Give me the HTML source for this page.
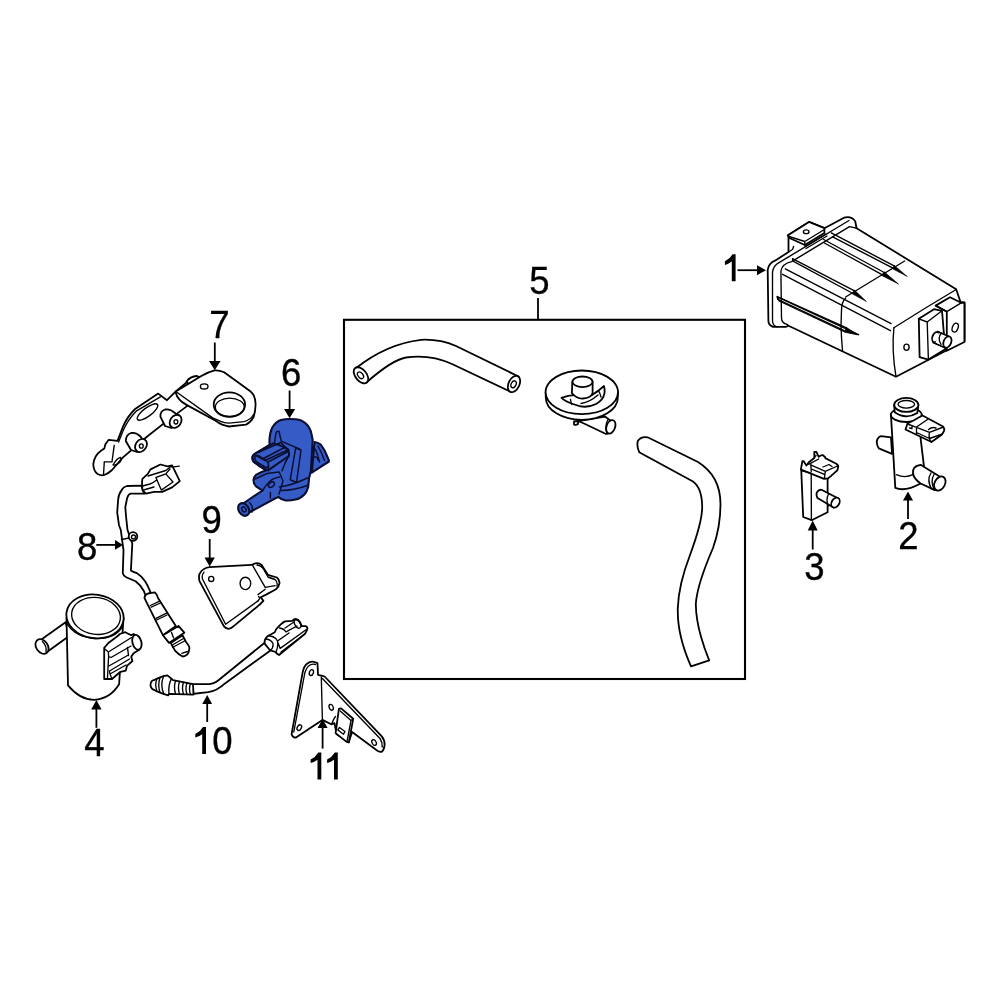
<!DOCTYPE html>
<html><head><meta charset="utf-8">
<style>
html,body{margin:0;padding:0;background:#fff;width:1000px;height:1000px;overflow:hidden}
svg{display:block;will-change:transform}
text{font-family:"Liberation Sans",sans-serif;font-size:38.5px;fill:#000;stroke:#000;stroke-width:0.35px;text-anchor:middle}
.s{fill:#fff;stroke:#000;stroke-width:1.8;stroke-linejoin:round;stroke-linecap:round}
.l{fill:none;stroke:#000;stroke-width:1.35;stroke-linejoin:round;stroke-linecap:round}
.b{fill:#355bc6;stroke:#0a0f32;stroke-width:2.1;stroke-linejoin:round;stroke-linecap:round}
.bl{fill:none;stroke:#0a0f32;stroke-width:1.5;stroke-linejoin:round;stroke-linecap:round}
.a{fill:none;stroke:#000;stroke-width:1.8}
.ah{fill:#000;stroke:none}
</style></head><body>
<svg width="1000" height="1000" viewBox="0 0 1000 1000">
<defs><path id="one" d="M0 0L0 27L-3.8 27L-3.8 7.2Q-7 9.6 -10.7 10.6L-10.7 7Q-5.6 4.6 -3 0Z"/></defs>
<!-- labels -->
<use href="#one" x="735.6" y="254.3"/>
<path class="a" d="M737.5 270.2H758"/><path class="ah" d="M757 265.2L766 270.2L757 275.2Z"/>
<text transform="translate(908.5 549.25) scale(0.95 1)">2</text>
<path class="a" d="M908 519V499"/><path class="ah" d="M903 500.5L908 491.5L913 500.5Z"/>
<text transform="translate(814.35 580.35) scale(0.95 1)">3</text>
<path class="a" d="M812.7 549.5V529"/><path class="ah" d="M807.7 530.5L812.7 520.5L817.7 530.5Z"/>
<text transform="translate(94.3 756.45) scale(0.95 1)">4</text>
<path class="a" d="M96.4 727.8V708"/><path class="ah" d="M91.2 709.5L96.4 700L101.6 709.5Z"/>
<text transform="translate(539.5 293.50) scale(0.95 1)">5</text>
<path class="a" d="M538 298V320"/>
<rect x="344" y="319.8" width="401" height="359.2" fill="none" stroke="#000" stroke-width="2.1"/>
<text transform="translate(291.25 385.65) scale(0.95 1)">6</text>
<path class="a" d="M289.6 390.5V410"/><path class="ah" d="M284 409L289.6 418.3L295.2 409Z"/>
<text transform="translate(219.5 338.15) scale(0.95 1)">7</text>
<path class="a" d="M214.8 342.5V362"/><path class="ah" d="M209 361L214.8 370.3L220.6 361Z"/>
<text transform="translate(87.05 559.55) scale(0.95 1)">8</text>
<path class="a" d="M96.3 544.9H116"/><path class="ah" d="M115 540L123 544.9L115 549.8Z"/>
<text transform="translate(211.75 533.40) scale(0.95 1)">9</text>
<path class="a" d="M209.7 539V558"/><path class="ah" d="M204.5 557.5L209.7 566.4L214.9 557.5Z"/>
<use href="#one" x="206" y="727"/><text transform="translate(222.4 753.85) scale(0.95 1)">0</text>
<path class="a" d="M207.2 722V703"/><path class="ah" d="M202.3 704L207.2 695L212.1 704Z"/>
<use href="#one" x="321.3" y="752.5"/><use href="#one" x="337.8" y="752.5"/>
<path class="a" d="M322.6 748.6V727"/><path class="ah" d="M317.6 728L322.6 719L327.6 728Z"/>
<!-- part 5 contents: short hose -->
<g>
<path class="s" d="M355.5 368.5Q386 344 421 339.8Q440 339 456 346L518.5 376.5L509 391L452 364Q430 354 406 357.5Q392 360 367 382Z"/>
<ellipse class="s" cx="361" cy="375.3" rx="5.6" ry="9.3" transform="rotate(-39 361 375.3)"/>
<ellipse class="l" cx="360.5" cy="375.3" rx="2.4" ry="3.8" transform="rotate(-39 360.5 375.3)"/>
<ellipse class="s" cx="514" cy="384" rx="5.4" ry="8.7" transform="rotate(26 514 384)"/>
<ellipse class="l" cx="513.6" cy="384.3" rx="2.4" ry="3.6" transform="rotate(26 513.6 384.3)"/>
</g>
<!-- valve -->
<g>
<path class="s" d="M578 421L605 416.5L611 421L612 432L606 434L584 423.5Z"/>
<ellipse class="s" cx="610.8" cy="426.8" rx="4.3" ry="7" transform="rotate(20 610.8 426.8)"/>
<path class="l" d="M608 419.5Q604 427 607.5 434"/>
<path class="s" d="M574 421.5L574 424.5Q576 425.5 578 424L578 421Z"/>
<path class="s" d="M545.6 392.3L545.8 397.8A36 22 0 0 0 617.8 397.8L618 392.3Z"/>
<ellipse class="s" cx="581.8" cy="392.3" rx="36.2" ry="21.8"/>

<path class="s" d="M561.5 397.8Q572 393.5 581 396L592 395Q598 391 598.5 390.5L604 386Q607 398 596 404Q586 409 576 405Q566 402 561.5 397.8Z"/>
<path class="l" d="M570.5 399.5Q571 403 572 404.5M581 403.5Q590 402 598 395M598.5 390.6Q600 393 601 397"/>
<path class="s" d="M572.3 382Q572 392 571.8 393Q577 399 583 398.5Q591 398 592.6 393L592.6 382Z"/>
<ellipse class="s" cx="582.5" cy="381.8" rx="10" ry="5.3"/>
</g>
<!-- long hose -->
<path class="s" d="M647.6 437.3L698 462Q720.4 476 720.5 504Q720.5 527 713 548Q697 585 695.8 604Q696 628 709.2 660.3L691 666.4Q677 635 677.8 608Q678.5 585 690 555Q702.2 522 702.2 507Q702 488 693 481.5L639.2 452.2Q636.5 446 637.8 441Q641 436 647.6 437.3Z"/>
<!-- part 1 canister -->
<g>
<path class="s" d="M767.7 270Q768.5 263 775.4 260.4L788.5 252L788.5 238L788 235.2L809 221.9L824.4 228.2L844 217.7Q851 215.5 855.2 221.2L856.6 228.2L956.2 289.2L960.4 301.8L964.6 302.5L964.6 341L896 376.7L788 325.5Q787 327 785.5 326.9L773 326.9Q768.4 325 768.4 321Z"/>
<path class="l" d="M777 326.8Q772.8 326 772.5 321V272Q773.5 265.5 779 262.6L849 220.5"/>
<path class="l" d="M787.5 324.7Q781.5 323 781.5 318L780.9 271Q782 264 791.6 261.7L849.5 226.7L856 228"/>
<path class="l" d="M788.5 252L792.5 249.5L793.6 246.4"/>
<!-- tab -->
<path class="s" d="M788 235.2L809 221.9L824.4 228.2L824.4 233.1L804.8 245L789.4 238Z"/>
<path class="l" d="M789 236.5L804.8 241.5L824.4 229.5M804.8 241.5V245"/>
<ellipse class="l" cx="806.2" cy="231.7" rx="2.8" ry="1.9"/>
<path class="l" d="M805 246.5L826 234M806 248.5L827 236"/>
<!-- ribs -->
<path class="l" d="M831.3 232.9L894.1 265.9M832.6 236.9L893 268.1"/>
<path d="M894.1 265.2L907.3 276.6L892.6 268.8Z" fill="#000" stroke="#000" stroke-width="0.6" stroke-linejoin="round"/>
<path class="l" d="M823.7 239.5L884.2 272.5M824.4 243L882 274.7"/>
<path d="M884.2 271.8L898.5 284.1L881.6 275.4Z" fill="#000" stroke="#000" stroke-width="0.6" stroke-linejoin="round"/>
<path class="l" d="M792.5 258.6L854.5 290.8M793 261.2L853 293.5M792.5 258.6L793 261.2"/>
<path d="M854.5 290.1L866.4 301.5L852.6 294.1Z" fill="#000" stroke="#000" stroke-width="0.6" stroke-linejoin="round"/>
<path class="l" d="M777.2 296.5L846 327.6M779.2 301L845 332M777.2 296.5L779.2 301"/>
<path d="M846 327L858.2 335L845 332.3Z" fill="#000" stroke="#000" stroke-width="0.5" stroke-linejoin="round"/>
<path class="l" d="M785.3 268.9L891.1 323.6M782.6 274.3L890.5 330.7"/>
<path class="l" d="M777.2 296.8L858.6 334.6L848 332.3L777.7 299.3Z"/>
<path class="l" d="M845.6 297L904.6 261"/>
<path class="l" d="M845.6 298.2Q841.5 302 841.5 310L841 325.5Q841.3 337 842.5 350.5"/>
<!-- end face -->
<path class="l" d="M893.9 327.7Q925 308 956.2 289.5"/>
<path class="l" d="M893.9 327.7Q891.5 350 896 376.7"/>
<ellipse class="l" cx="906.5" cy="347.3" rx="2.6" ry="3.1"/>
<!-- connector -->
<path class="s" d="M935.6 305.6L950 297.2L961.2 302.8L964.4 302.8L964.4 342L946.8 350.8L946.8 311.6Z"/>
<path class="l" d="M935.6 305.6L946.8 311.6L961.2 302.8"/>
<path class="s" d="M918.8 318.8L934 309.2L942 310.8L945.2 349.2L928.4 359.6L919.6 357.2Z"/>
<path class="l" d="M918.8 318.8L927.2 322L942 310.8M927.2 322L928.4 359.6"/>
<ellipse class="l" cx="955.2" cy="327.6" rx="2.8" ry="4.6" transform="rotate(22 955.2 327.6)"/>
<path class="s" d="M937.5 331.6L948.4 336.4L945.2 347.6L933.2 342.5Z"/>
<ellipse class="s" cx="935.6" cy="337.2" rx="3.2" ry="5.3" transform="rotate(20 935.6 337.2)"/>
<path class="s" d="M939 331.8L948.6 336.2L945.5 348L935.5 342.8Z" style="stroke:none"/>
<path class="l" d="M938 331.8L948.4 336.3M933.5 342.6L945.2 347.8"/>
<path class="l" d="M941.5 333Q937 338 941 344.5"/>
<ellipse class="s" cx="947.4" cy="342" rx="3.8" ry="5.9" transform="rotate(22 947.4 342)"/>
</g>
<!-- part 2 -->
<g>
<path class="s" d="M881 436.2L891 437.3L892 453.8L878.8 448.3Q875.5 443 877.5 439Q879 436.5 881 436.2Z"/>
<path class="s" d="M890.9 414.2L895.3 487.9Q905 492 920.6 483.5L923.9 465.9L920.6 438.4L921.7 415.3Q906 408 890.9 414.2Z"/>
<path class="l" d="M896.4 474.7Q905 478.5 912.9 474.7"/>
<path class="s" d="M913 473.5Q912 466 920.6 464.8L940.4 476.9L934.9 490.1L920.6 483.5Q914 479 913 473.5Z"/>
<ellipse class="s" cx="939.8" cy="483.5" rx="5.2" ry="7.5" transform="rotate(28 939.8 483.5)"/>
<path class="l" d="M931 473Q926.5 480 931.5 489M934 474.5Q930 481 934.5 490.5"/>
<ellipse class="s" cx="906.3" cy="414.8" rx="15.4" ry="7.2"/>
<path class="s" d="M894.2 405L894.7 412.3Q906 420 917.3 413L918.4 405Z"/>
<ellipse class="s" cx="906.3" cy="404.9" rx="12.1" ry="7"/>
<ellipse class="l" cx="906.3" cy="404.3" rx="8.3" ry="3.8"/>
<path class="s" d="M905.5 429.5L907.5 423.5L914 420.3Q918.5 417.5 922.5 415.5L943 426.5Q945 429 944 431L942 434.5L931.5 442Z"/>
<path class="l" d="M916.5 427L927.5 419.5M916.5 427V434M907.5 423.8L916.5 427.3L929.5 432.3L943.5 427M916.5 432.5L929.5 438.5M929.5 432.3Q928 438 931.5 442M929.5 438.5L942.5 434M909.5 425L912 425.3L912 428.5L909.5 428M928.5 429.5Q932 426.5 936 428"/>
</g>
<!-- part 3 -->
<g>
<path class="s" d="M801.2 469L803.2 517L811.6 520.2L827.6 512.2L827.6 478.6L811.2 471.4Z"/>
<path class="l" d="M811.2 471.4L811.4 520"/>
<path class="s" d="M801.1 469.6L801.1 468.2L802.4 461.2L803.7 461.2L806.4 465.6L808.6 462.5L814.3 458L814.3 452L816.5 452L818.7 456.8L820.9 455.5L822.6 455L825.3 457.2L825.3 458.1L836.3 463.8Q839 465.5 838 468Q837.5 470.5 836.7 470.9L831.4 475.7L827.9 478.4L824 478.8Z"/>
<path class="l" d="M810.8 463.4L811.2 471.5M811.2 465.2L825.3 471.3L837.5 466M811.6 469.1L824.4 474.4M825.3 471.3L824.4 478.5M802 470.9L811 473.2M808.6 464.3L818.7 459M814.3 457.5L816 455.5M823 467L829 464.5L832 466.5"/>
<path class="s" d="M821.5 489.8L837 497.8L833.5 507.5L817.5 498Q815.5 494 817.5 491.5Q819.5 489.5 821.5 489.8Z"/>
<ellipse class="s" cx="835.5" cy="502.6" rx="3.8" ry="5.3" transform="rotate(30 835.5 502.6)"/>
<path class="l" d="M828.5 494Q825.5 500 828.5 506"/>
</g>
<!-- part 6 blue -->
<g>
<path class="b" d="M314.5 442Q318 442.5 320.8 444.7Q325 450 328 458.2Q329.5 460.5 328.9 461.5L311.8 472.6Z"/>
<path class="bl" d="M315.4 449.2Q318 455 319.5 462M318 446Q322 453 324.5 460.5M314 457Q317 456 318 460"/>
<path class="b" d="M289.3 419Q297 419 301 420.4Q306.5 423 309.1 427.6Q311.5 431.5 311.8 435.7L312.7 440L310.9 470.8L309.1 478L308.2 487Q307 491.5 304.6 494.2Q300.5 498.5 295.6 499.6Q290 500.8 285.7 500.5Q281 499.5 278.5 496.9L275 498.5L246.3 514Q241.5 515.5 239 511Q238 507 241 505L262.4 490.5L256 486.4Q253 483 253.6 479.2Q254.5 475.5 256.8 474.4Q262 471.5 266 470.5L260 466.4L253.6 461.6Q251.5 458.5 252.8 456Q253.5 454.5 255.2 453.6L269.5 445L269.5 439.3Q270 432 272.2 427.6Q276 421.5 281 420Q285 419 289.3 419Z"/>
<ellipse class="b" cx="243.7" cy="509.5" rx="5" ry="6.8" transform="rotate(-33 243.7 509.5)"/>
<ellipse class="bl" cx="243.9" cy="509.4" rx="2" ry="2.6" transform="rotate(-33 243.9 509.4)"/>
<path class="bl" d="M249.5 502.5Q253.5 506 252 512M270.4 492.5V498"/>
<path class="b" d="M252.8 456L255.2 453.6L273.6 443.2Q281 445 288 449.6Q289.5 452.5 288.8 456L268 470.4L260 466.4L253.6 461.6Q252 458.5 252.8 456Z"/>
<path class="bl" d="M255 456.5Q256.5 455 259 456L266 460.5Q268.5 462.5 268.5 465.5Q268 468 265 467L257.5 462.5Q254 460 255 456.5Z"/>
<path class="bl" d="M258 452.5L280.8 442.5L288 449.6M256 455.5L265 460.5L288.8 449.5M262.5 459L284.5 447.5M268 462L288.3 451.5M268.5 465.5L268 470.4"/>
<path class="bl" d="M255 479L267 473.5L279.2 472L283 481L279 494"/>
<path class="bl" d="M262.4 491.2Q266 484 272 479.5Q276 477.5 279.5 477"/>
<ellipse class="bl" cx="271.4" cy="484.6" rx="3.4" ry="2.3" transform="rotate(-40 271.4 484.6)"/>
<path class="bl" d="M274.6 442L276 433Q277 430.5 279 431.5L281.2 441.1Q290 445 300.1 449.2"/>
<path class="bl" d="M290.2 479.8L295.6 448.3L301 450.1L296.5 482.5Z"/>
<path class="bl" d="M279.4 487Q293 485 307.3 478M281.2 490.6Q295 490 308.2 485.2"/>
<path class="bl" d="M288.8 456Q285 462 282 470.8"/>
</g>
<!-- part 7 -->
<g>
<path class="s" d="M196 377L189 380.4L175.8 391.4L167 400.2L158.2 393.6L135.1 409Q127 417 123 426.6L117.5 440.9L108.7 439.8L105.4 444.2L104.3 448.6L101 450.8Q94.4 455.5 93.3 464Q93.3 471 97.7 474Q101 476 104.3 475Q109 473 112 470L123 457.4L147.2 436.5L162.6 424.4L189 404.6L200 400Z"/>
<path class="l" d="M160.4 396.9L136.2 411.2Q127.5 420 123 431L118.6 442"/>
<path class="l" d="M104.3 461.8L112 461.8L114.2 445.3M104.3 461.8L103.5 475"/>
<path class="l" d="M113 465Q117 458 120.5 457.5Q122 461 119 463Q115.5 465.5 113 465Z"/>
<ellipse class="l" cx="147.5" cy="412" rx="12.5" ry="4.2" transform="rotate(-37 147.5 412)"/>
<path class="s" d="M160.4 416.7Q160 411 165 409.5Q170 408.5 175 413L179 418L171.5 428L165 426Z"/>
<ellipse class="s" cx="175.6" cy="421.3" rx="5.4" ry="7" transform="rotate(35 175.6 421.3)"/>
<ellipse class="l" cx="175.9" cy="421.8" rx="1.9" ry="2.2"/>
<path class="s" d="M125.8 441Q126 434.5 131 433Q136 432 140.5 436.5L144.5 442L137 452L131 450Z"/>
<ellipse class="s" cx="141" cy="445.5" rx="5.4" ry="7" transform="rotate(35 141 445.5)"/>
<ellipse class="l" cx="141.3" cy="446" rx="1.9" ry="2.2"/>
<path class="s" d="M186.4 381.7Q190 376.5 197 376L205 380L196 392Z"/>
<path class="s" d="M214.6 370.4Q219 370 224.1 372.3L247.9 389.4Q252.5 392.5 253.6 395.1Q256 400 255.5 405.6Q255.3 412 253.6 417Q251 422 246 424.6L228.9 426.5Q222 425.5 215.6 420.8L186.1 404.6Q177.5 400 175.7 392.5Q175.5 391.5 176.5 391L201.3 376.1Q208 372 214.6 370.4Z"/>
<path class="l" d="M253.6 414.5Q250.5 419.8 244.1 421.7L228.9 423.2Q224 423 221.3 421.7L212.7 417.9L176.5 392"/>
<ellipse class="s" cx="229.4" cy="404.6" rx="15.7" ry="12.3"/>
<ellipse class="l" cx="229.8" cy="407.3" rx="14.5" ry="9.2"/>
<ellipse class="l" cx="204.2" cy="386.4" rx="3.8" ry="2.6"/>
</g>
<!-- part 8 -->
<g>
<path class="s" d="M141.5 485.6L127.1 486Q123 487 121.7 490.1Q118.5 494 118.1 500L117.2 512.6L119 525.2L120.8 530L123.5 550.2L122.8 573.2Q123.5 576 126.2 577.2L135.6 581.3Q140.5 585 143.7 590.7L145.8 596.1L150.5 592.1Q147.5 585 145.1 581.3Q141 575.5 137 573.2Q132 571.5 130.9 570.5L132.3 543.5L127.5 530L126.2 518L125.3 507.2L127.1 498.2Q128.5 494 130.7 493.7L144.2 493.7Z"/>
<path class="s" d="M142 482L142.4 478.9L147.8 473.9L150.5 469.4L160.4 464.5L167.6 466.3L172.1 465.4L179.8 481.1L172.1 487.4L162.2 491.9L154.1 491.9L146 493.7L142.4 490.1Z"/>
<path class="l" d="M148 476L165.8 470.5L172.1 465.4M155.9 477.5L165.8 473.9L173 482L161.3 490.1ZM165.8 473.9L170 469M142.5 486L150 484Q153 483 156 480.5M143.5 490L154 487M172.1 467.2L179.3 466.2"/>
<circle class="s" cx="133" cy="536.5" r="4.3"/>
<circle class="l" cx="133.5" cy="537" r="2"/>
<path class="l" d="M121.5 539.5L129 538"/>
<path class="s" d="M144.4 597.9Q145 594.5 147.8 593.6L154.6 592.3Q157 594 158 597.9L175.8 625.9L163 635.3Z"/>
<path class="l" d="M150.3 605.5L159.7 601.2M151.2 607.2L160.5 603M156 618.3L166.5 613.2M156.5 620L167 615"/>
<path class="s" d="M170.7 642.9L182.6 635.3L186 642Q189.5 646 189.4 648Q189 653 186.9 654.8Q184.5 656.5 182.6 656.5Q178 654 175 650.6Z"/>
<path class="l" d="M171.5 645.5L183.5 638.5M172.5 647.5L184.5 641M181.8 653.3L187.5 651.5"/>
<path class="s" d="M163 635.3L178.4 625.9L184.3 632.7L169 642.9Z"/>
<path class="l" d="M171.5 632.5L173.5 637.8"/>
</g>
<!-- part 4 -->
<g>
<path class="s" d="M65.6 622.2L41.5 639.4L48.4 651L69.1 636Z"/>
<ellipse class="s" cx="42" cy="646.5" rx="5.8" ry="8" transform="rotate(-35 42 646.5)"/>
<path class="l" d="M42.5 641.5Q47 646 46 652"/>
<path class="s" d="M66.5 618L68 685.4Q80 700 94.4 699.8Q110 699 119.1 684.3L119.7 675.1L123.5 618Z"/>
<path class="s" d="M104.2 679L104.2 647.8L108.4 643L118 635.8L119.8 634L125.2 632.2L131.2 635.2L133.6 634L139 637L141.4 643L139.6 649.6L133.6 653.2L131.2 656.8L132.4 661L127 665.8L125.8 670.6L120.4 671.8L112 679Z"/>
<path class="l" d="M104.8 649L108.4 652L131.5 637.5M108.4 652L108.6 656.5L111 657.5L131 646M108.6 656.5L107.5 677.5M108 666.5L127.5 655.5M109.5 671L129.5 659M110 674L112 679M109.5 671L110 674L126 665"/>
<path class="l" d="M127.5 647.5L128.5 655.5"/>
<ellipse class="s" cx="136.9" cy="642.3" rx="4.4" ry="7.6" transform="rotate(-15 136.9 642.3)"/>
<path class="l" d="M66.8 623.3Q75 637 95 638.5Q114 639 121.5 628"/>
<ellipse class="s" cx="95" cy="616.4" rx="28.75" ry="21.8" transform="rotate(8 95 616.4)"/>
<ellipse class="l" cx="96" cy="615.9" rx="24.5" ry="18.4" transform="rotate(8 96 615.9)"/>
</g>
<!-- part 9 -->
<g>
<path class="s" d="M209.4 567.2L251.7 564.9Q254.5 563.2 257.1 563.1Q259.5 563.3 261.6 564.9L267.9 574.8L276.9 577.5Q279.5 579.5 279.6 582.9Q279 587 276 589.2L266.1 594.6L260.7 597.3L263.4 600.9L259.8 604.5L233.7 626.1Q231 628.8 228.3 628.8Q225.5 628.2 223.8 626.1L199.5 581.1Q198.5 577 199.5 573.9Q201.5 570 204 569Q206.5 567.6 209.4 567.2Z"/>
<path class="l" d="M204 572.1Q201.5 575 202.5 579L225.6 624.3L258 600.9M252.6 565.4L265.2 587.4L275.1 585.6M265.2 589.2L258 594.6M257.1 565Q262 566 263.5 569L268 577Q270.5 578 275 579.5Q278 582 277 586"/>
<path class="l" d="M258 600.9L260 598L258.5 596.5"/>
<circle class="l" cx="211.2" cy="578.9" r="2.6"/>
<ellipse class="l" cx="245.4" cy="583.4" rx="5.3" ry="6.2"/>
</g>
<!-- part 10 -->
<g>
<path class="s" d="M192 684.2L209 684.2Q215 683.5 220 679L267.4 640.5L272.5 649L225 683.4Q217 691 208.2 692.2L192 694Z"/>
<path class="s" d="M157 678.6L163.4 676.2L167.4 675.4L171.4 678.6L173 680.2L193 684.2L193.5 694.6L169 693.8L168.2 695.4L163.4 693.8L157 691.4L153.8 689.8Q150.5 688.5 150.5 684.5Q151 680.5 153.8 680.2Z"/>
<path class="l" d="M157 678.6Q154.5 685 157 691.4M160 677.5Q157.5 685 160 692.5M163.4 676.5Q160 685.5 163.8 693.8M171.4 678.6Q168 686 169 693.8M175.5 681Q173.5 687 175.5 693.8M179.5 681.5Q177.5 687.5 179.5 694M183.5 682.3Q181.5 688 183.5 694.2M187 683Q185 688.5 187 694.3M190.5 683.6Q188.5 689 190.5 694.5"/>
<path class="s" d="M264.6 643.6Q264.5 639.5 265.8 638.2Q267.5 636 269.4 635.2L274.8 632.2Q276 629 277.8 627.4L280.8 624.4Q283 622.5 285 621.4L292.2 620.8Q294 619 295.8 619Q298.5 619.5 300 622L301.8 626.2L306 626.2Q308 627.5 307.2 629.2Q306.5 632 304.8 634L279 655Q277 654 275.4 652L270 650.2Z"/>
<path class="l" d="M266 639Q271 639.5 273 643.5Q273.5 648 270.5 650M269.5 636Q275.5 636.5 277.5 641Q278.5 646 276 652M277.5 641L289 633M279.5 628Q284 628.5 286 632L297 626M285 628L294 622M287.4 631L297 626.2M280.2 648.4L306 629.8M281 652L304.8 634M277.5 641.5L280.2 648.4"/>
<ellipse class="l" cx="297.5" cy="624" rx="2.6" ry="4.6" transform="rotate(-30 297.5 624)"/>
</g>
<!-- part 11 -->
<g>
<path class="s" d="M291.6 734.2L302.6 672.6Q304 666 307 663.8Q310 661.5 312.5 661.6Q316 662 317.5 663.3L318 674.8L322.4 675.9L324.6 676.5L381.8 736.4Q385 740.5 384.6 745.2Q384 750 381.8 751.8Q379.5 752 377.4 750.7L352.1 732L348.8 741.9L336.7 734.2L334.5 723.2L331.2 724.3L322.4 719.9L296 737.5Q293 738 291.6 734.2Z"/>
<path class="l" d="M293.8 732L304.8 673Q306.5 667 310 665Q313 663.5 315.5 664.5M322.4 678.5L380 738.5Q382.5 742 382.2 747M321.3 677L322.4 719.9"/>
<ellipse class="l" cx="311.4" cy="672.6" rx="2" ry="3" transform="rotate(20 311.4 672.6)"/>
<ellipse class="l" cx="299.3" cy="727.6" rx="2" ry="3" transform="rotate(30 299.3 727.6)"/>
<ellipse class="l" cx="331.2" cy="707.3" rx="2" ry="3" transform="rotate(-20 331.2 707.3)"/>
<ellipse class="l" cx="374.1" cy="742.5" rx="2" ry="3" transform="rotate(-30 374.1 742.5)"/>
<path class="s" d="M338.9 708.9L341.1 708.4L353.2 718.8L348.8 742.5L346.6 741.9L335.6 733.1Z"/>
<path class="l" d="M340.2 711L351 720.5L347 741.5M351 720.5L353.2 718.8"/>
<path class="l" d="M337.8 730L343.5 734.2L345 731.5L339.5 727.5Z"/>
<path class="l" d="M332 723Q334 718 335.5 716.5"/>
</g>
</svg>
</body></html>
